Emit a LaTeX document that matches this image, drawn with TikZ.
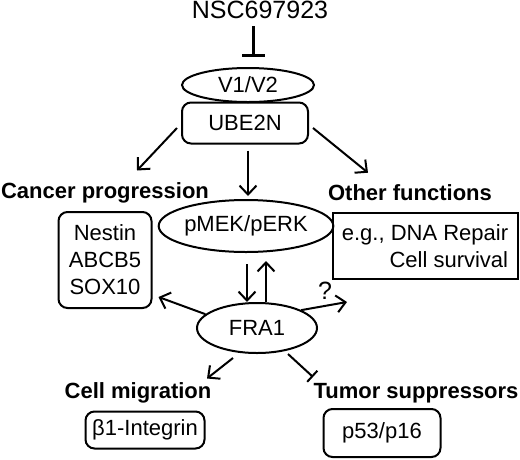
\documentclass[tikz,border=0pt]{standalone}
\usepackage{fontspec}
\setmainfont{Liberation Sans}
\usepackage{tikz}
\usetikzlibrary{arrows.meta}
\usetikzlibrary{shapes.geometric}
\tikzset{
every node/.style={inner sep=0pt, font=\fontsize{22}{27}\selectfont},
oval/.style={ellipse, draw, line width=2pt},
rbox/.style={rectangle, rounded corners=9pt, draw, line width=2pt},
sbox/.style={rectangle, draw, line width=2pt},
head/.style={font=\fontsize{22}{27}\selectfont\bfseries},
act/.style={-{Straight Barb[length=9pt,width=17pt,line width=2pt]}, line width=2pt},
inh/.style={-{Bar[width=15pt,line width=2pt]}, line width=2pt}
}

\begin{document}
\begin{tikzpicture}[x=1pt, y=-1pt]
\useasboundingbox (0,0) rectangle (520,459);
\node [font=\fontsize{25}{28}\selectfont] (NSC) at (260,10) {NSC697923};
\node [oval, minimum width=132pt, minimum height=34pt] (V12) at (248,85) {V1/V2};
\node [rbox, minimum width=126pt, minimum height=41pt] (UBE) at (245,123) {UBE2N};
\node [head] (CANC) at (105,193) {Cancer progression};
\node [rbox, minimum width=93pt, minimum height=96pt, align=center] (MARK) at (105,260) {Nestin\\ABCB5\\SOX10};
\node [oval, minimum width=148pt, minimum height=52pt] (PMEK) at (246,226) {pMEK/pERK};
\node [head] (OTHER) at (410,193) {Other functions};
\node [sbox, minimum width=185pt, minimum height=66pt, align=right] (FUNC) at (425,246) {e.g., DNA Repair\\Cell survival};
\node [oval, minimum width=120pt, minimum height=50pt] (FRA) at (257,328) {FRA1};
\node [head] (MIG) at (138,393) {Cell migration};
\node [head] (TUM) at (416,393) {Tumor suppressors};
\node [rbox, minimum width=119pt, minimum height=37pt] (ITG) at (145,430) {β1-Integrin};
\node [rbox, minimum width=117pt, minimum height=48pt] (P53) at (382,433) {p53/p16};
\node [font=\fontsize{25}{28}\selectfont] (Q) at (325,291) {?};
\coordinate (QEND) at (347,302);

\draw[-{Bar[width=23pt,line width=3pt]}, line width=3pt, shorten <=7pt, shorten >=10pt] ([xshift=-7pt]NSC.south) -- ([xshift=5pt]V12.north);
\draw[act] ([xshift=-4pt,yshift=-5pt]UBE.west) -- ([xshift=32pt,yshift=12pt]CANC.north);
\draw[act] ([xshift=4pt,yshift=-5pt]UBE.east) -- ([xshift=-42pt,yshift=12pt]OTHER.north);
\draw[act, shorten <=6pt, shorten >=3pt] ([xshift=3pt]UBE.south) -- ([xshift=2pt]PMEK.north);
\draw[act] ([xshift=1pt,yshift=-11pt]PMEK.south) -- ([xshift=-10pt]FRA.north);
\draw[act] ([xshift=9pt]FRA.north) -- ([xshift=20pt,yshift=-8pt]PMEK.south);
\draw[act] (FRA.165) -- ([xshift=6pt,yshift=12pt]MARK.south east);
\draw[act] (FRA.22) -- (QEND);
\draw[act] ([xshift=-24pt,yshift=-4pt]FRA.south) -- ([xshift=69pt,yshift=4pt]MIG.north);
\draw[inh] ([xshift=31pt]FRA.south) -- ([xshift=-103pt,yshift=6pt]TUM.north);
\end{tikzpicture}
\end{document}
